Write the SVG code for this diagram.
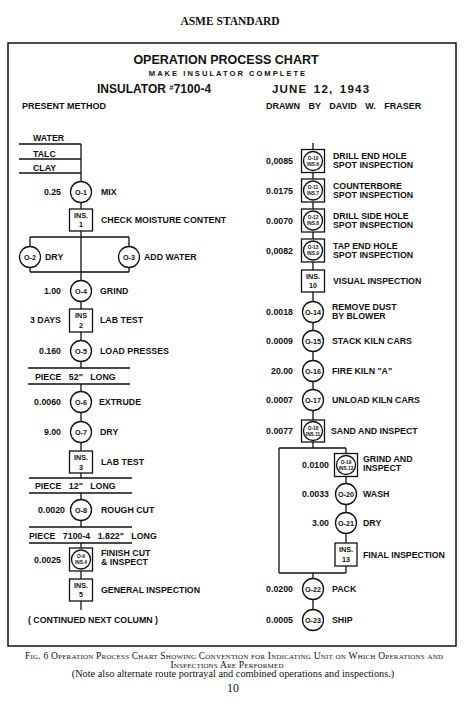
<svg xmlns="http://www.w3.org/2000/svg" width="474" height="704" viewBox="0 0 474 704">
<style>
.ln{stroke:#111;stroke-width:1.3;fill:none}
.nd{fill:#fff;stroke:#111;stroke-width:1.3}
.t{font-family:"Liberation Sans",Arial,sans-serif;font-weight:bold;font-size:8.8px;fill:#111}
.h{font-family:"Liberation Sans",Arial,sans-serif;font-weight:bold;font-size:9px;fill:#111}
.n{font-family:"Liberation Sans",Arial,sans-serif;font-weight:bold;font-size:7.2px;fill:#111;text-anchor:middle}
.s{font-family:"Liberation Sans",Arial,sans-serif;font-weight:bold;font-size:4.8px;fill:#111;text-anchor:middle}
.r{text-anchor:end}
.cap{font-family:"Liberation Serif","Times New Roman",serif;font-size:9.5px;fill:#111;font-variant:small-caps;text-anchor:middle}
</style>
<rect width="474" height="704" fill="#fff"/>
<text x="230" y="25" text-anchor="middle" style="font-family:'Liberation Serif',serif;font-weight:bold;font-size:11.5px" fill="#111">ASME STANDARD</text>
<rect x="8" y="43" width="448" height="603" fill="none" stroke="#111" stroke-width="1.5"/>
<g id="header">
<text x="226" y="64" text-anchor="middle" style="font-family:'Liberation Sans',sans-serif;font-weight:bold;font-size:12.5px" fill="#111">OPERATION PROCESS CHART</text>
<text x="228" y="76" text-anchor="middle" style="font-family:'Liberation Sans',sans-serif;font-weight:bold;font-size:7.6px;letter-spacing:2px" fill="#111">MAKE INSULATOR COMPLETE</text>
<text x="97" y="93" style="font-family:'Liberation Sans',sans-serif;font-weight:bold;font-size:12px" fill="#111">INSULATOR <tspan dy="-3.5" font-size="8">#</tspan><tspan dy="3.5">7100-4</tspan></text>
<text x="272" y="93" style="font-family:'Liberation Sans',sans-serif;font-weight:bold;font-size:11.5px;letter-spacing:1.2px;word-spacing:2px" fill="#111">JUNE 12, 1943</text>
<text x="22" y="109" class="h">PRESENT METHOD</text>
<text x="266" y="109" class="h" style="word-spacing:6px">DRAWN BY DAVID W. FRASER</text>
</g>
<g id="connectors">
<path class="ln" d="M19,144H81M19,159H81M19,173H81M81,144V368M81,384V478M81,493V527M81,543V610"/>
<path class="ln" d="M30,237H129M30,272H129M30,237V272M129,237V272"/>
<path class="ln" d="M28,368H130M28,384H130M29,478H132M29,493H132M29,527H132M29,543H132"/>
<path class="ln" d="M313,143V448M279,448H346M279,448V573M346,448V573M279,573H346M313,573V620"/>
</g>
<g id="materials">
<text x="33" y="141" class="t">WATER</text>
<text x="33" y="156.5" class="t">TALC</text>
<text x="33" y="170.5" class="t">CLAY</text>
</g>
<g id="o1"><circle class="nd" cx="81" cy="192" r="10.5"/><text x="81" y="194.5" class="n">O-1</text><text x="61" y="195" class="t r">0.25</text><text x="101" y="195" class="t">MIX</text></g>
<g id="ins1"><rect class="nd" x="69.5" y="209" width="23" height="22"/><text x="81" y="218" class="n">INS.</text><text x="81" y="227" class="n">1</text><text x="101" y="223" class="t">CHECK MOISTURE CONTENT</text></g>
<g id="o2"><circle class="nd" cx="30" cy="257" r="10.5"/><text x="30" y="259.5" class="n">O-2</text><text x="45" y="260" class="t">DRY</text></g>
<g id="o3"><circle class="nd" cx="129" cy="257" r="10.5"/><text x="129" y="259.5" class="n">O-3</text><text x="144" y="260" class="t">ADD WATER</text></g>
<g id="o4"><circle class="nd" cx="81" cy="291" r="10.5"/><text x="81" y="293.5" class="n">O-4</text><text x="61" y="294" class="t r">1.00</text><text x="100" y="294" class="t">GRIND</text></g>
<g id="ins2"><rect class="nd" x="69.5" y="309" width="23" height="23"/><text x="81" y="318" class="n">INS</text><text x="81" y="327.5" class="n">2</text><text x="61" y="323" class="t r">3 DAYS</text><text x="100" y="323" class="t">LAB TEST</text></g>
<g id="o5"><circle class="nd" cx="81" cy="351" r="10.5"/><text x="81" y="353.5" class="n">O-5</text><text x="61" y="354" class="t r">0.160</text><text x="100" y="354" class="t">LOAD PRESSES</text></g>
<g id="piece52"><text x="35" y="379.5" class="t" style="word-spacing:5px">PIECE 52" LONG</text></g>
<g id="o6"><circle class="nd" cx="81" cy="402" r="10.5"/><text x="81" y="404.5" class="n">O-6</text><text x="61" y="405" class="t r">0.0060</text><text x="99" y="405" class="t">EXTRUDE</text></g>
<g id="o7"><circle class="nd" cx="81" cy="432" r="10.5"/><text x="81" y="434.5" class="n">O-7</text><text x="61" y="435" class="t r">9.00</text><text x="100" y="435" class="t">DRY</text></g>
<g id="ins3"><rect class="nd" x="69.5" y="451" width="23" height="22"/><text x="81" y="460" class="n">INS.</text><text x="81" y="469.5" class="n">3</text><text x="101" y="465" class="t">LAB TEST</text></g>
<g id="piece12"><text x="35" y="489" class="t" style="word-spacing:5px">PIECE 12" LONG</text></g>
<g id="o8"><circle class="nd" cx="81" cy="510" r="10.5"/><text x="81" y="512.5" class="n">O-8</text><text x="65" y="513" class="t r">0.0020</text><text x="101" y="513" class="t">ROUGH CUT</text></g>
<g id="piece7100"><text x="29" y="538.5" class="t" style="word-spacing:5px">PIECE 7100-4 1.822" LONG</text></g>
<g id="o9"><rect class="nd" x="69.5" y="548" width="23" height="23"/><circle class="nd" cx="81" cy="559.5" r="9.5"/><text x="81" y="558" class="s">O-9</text><text x="81" y="564" class="s">INS.4</text><text x="61" y="563" class="t r">0.0025</text><text x="101" y="556" class="t">FINISH CUT</text><text x="101" y="565" class="t">&amp; INSPECT</text></g>
<g id="ins5"><rect class="nd" x="69.5" y="579" width="23" height="22"/><text x="81" y="587.5" class="n">INS.</text><text x="81" y="597" class="n">5</text><text x="101" y="593" class="t">GENERAL INSPECTION</text></g>
<g id="continued"><text x="28" y="623" class="t">( CONTINUED NEXT COLUMN )</text></g>

<g id="o10"><rect class="nd" x="301.5" y="149.5" width="23" height="23"/><circle class="nd" cx="313" cy="161" r="9.5"/><text x="313" y="159.5" class="s">O-10</text><text x="313" y="165.5" class="s">INS.6</text><text x="293" y="164" class="t r">0,0085</text><text x="333" y="159" class="t">DRILL END HOLE</text><text x="333" y="168" class="t">SPOT INSPECTION</text></g>
<g id="o11"><rect class="nd" x="301.5" y="179" width="23" height="23"/><circle class="nd" cx="313" cy="190.5" r="9.5"/><text x="313" y="189" class="s">O-11</text><text x="313" y="195" class="s">INS.7</text><text x="293" y="193.5" class="t r">0.0175</text><text x="333" y="189" class="t">COUNTERBORE</text><text x="333" y="198" class="t">SPOT INSPECTION</text></g>
<g id="o12"><rect class="nd" x="301.5" y="209" width="23" height="23"/><circle class="nd" cx="313" cy="220.5" r="9.5"/><text x="313" y="219" class="s">O-12</text><text x="313" y="225" class="s">INS.8</text><text x="293" y="223.5" class="t r">0.0070</text><text x="333" y="219" class="t">DRILL SIDE HOLE</text><text x="333" y="228" class="t">SPOT INSPECTION</text></g>
<g id="o13"><rect class="nd" x="301.5" y="239" width="23" height="23"/><circle class="nd" cx="313" cy="250.5" r="9.5"/><text x="313" y="249" class="s">O-13</text><text x="313" y="255" class="s">INS.9</text><text x="293" y="253.5" class="t r">0,0082</text><text x="333" y="249" class="t">TAP END HOLE</text><text x="333" y="258" class="t">SPOT INSPECTION</text></g>
<g id="ins10"><rect class="nd" x="301.5" y="270" width="23" height="22"/><text x="313" y="278.5" class="n">INS.</text><text x="313" y="288" class="n">10</text><text x="333" y="284" class="t">VISUAL INSPECTION</text></g>
<g id="o14"><circle class="nd" cx="313" cy="312" r="10.5"/><text x="313" y="314.5" class="n">O-14</text><text x="293" y="315" class="t r">0.0018</text><text x="332" y="310" class="t">REMOVE DUST</text><text x="332" y="319" class="t">BY BLOWER</text></g>
<g id="o15"><circle class="nd" cx="313" cy="341" r="10.5"/><text x="313" y="343.5" class="n">O-15</text><text x="293" y="344" class="t r">0.0009</text><text x="332" y="344" class="t">STACK KILN CARS</text></g>
<g id="o16"><circle class="nd" cx="313" cy="371" r="10.5"/><text x="313" y="373.5" class="n">O-16</text><text x="293" y="374" class="t r">20.00</text><text x="332" y="374" class="t">FIRE KILN "A"</text></g>
<g id="o17"><circle class="nd" cx="313" cy="400" r="10.5"/><text x="313" y="402.5" class="n">O-17</text><text x="293" y="403" class="t r">0.0007</text><text x="332" y="403" class="t">UNLOAD KILN CARS</text></g>
<g id="o18"><rect class="nd" x="301.5" y="420" width="23" height="22"/><circle class="nd" cx="313" cy="431" r="9.5"/><text x="313" y="429.5" class="s">O-18</text><text x="313" y="435.5" class="s">INS.11</text><text x="293" y="434" class="t r">0.0077</text><text x="331" y="434" class="t">SAND AND INSPECT</text></g>
<g id="o19"><rect class="nd" x="334.5" y="453.5" width="23" height="23"/><circle class="nd" cx="346" cy="465" r="9.5"/><text x="346" y="463.5" class="s">O-19</text><text x="346" y="469.5" class="s">INS.12</text><text x="329" y="468" class="t r">0.0100</text><text x="363" y="462" class="t">GRIND AND</text><text x="363" y="471" class="t">INSPECT</text></g>
<g id="o20"><circle class="nd" cx="346" cy="494" r="10.5"/><text x="346" y="496.5" class="n">O-20</text><text x="329" y="497" class="t r">0.0033</text><text x="363" y="497" class="t">WASH</text></g>
<g id="o21"><circle class="nd" cx="346" cy="523" r="10.5"/><text x="346" y="525.5" class="n">O-21</text><text x="329" y="526" class="t r">3.00</text><text x="363" y="526" class="t">DRY</text></g>
<g id="ins13"><rect class="nd" x="335" y="543" width="22" height="23"/><text x="346" y="552" class="n">INS.</text><text x="346" y="561.5" class="n">13</text><text x="363" y="558" class="t">FINAL INSPECTION</text></g>
<g id="o22"><circle class="nd" cx="313" cy="589" r="10.5"/><text x="313" y="591.5" class="n">O-22</text><text x="293" y="592" class="t r">0.0200</text><text x="332" y="592" class="t">PACK</text></g>
<g id="o23"><circle class="nd" cx="313" cy="620" r="10.5"/><text x="313" y="622.5" class="n">O-23</text><text x="293" y="623" class="t r">0.0005</text><text x="332" y="623" class="t">SHIP</text></g>

<g id="caption">
<text x="234" y="658.5" class="cap" textLength="418" lengthAdjust="spacing">Fig. 6  Operation Process Chart Showing Convention for Indicating Unit on Which Operations and</text>
<text x="227" y="667.5" class="cap" textLength="113" lengthAdjust="spacing">Inspections Are Performed</text>
<text x="233" y="677" text-anchor="middle" style="font-family:'Liberation Serif',serif;font-size:10.3px" fill="#111">(Note also alternate route portrayal and combined operations and inspections.)</text>
<text x="233" y="692" text-anchor="middle" style="font-family:'Liberation Serif',serif;font-size:12px" fill="#111">10</text>
</g>
</svg>
